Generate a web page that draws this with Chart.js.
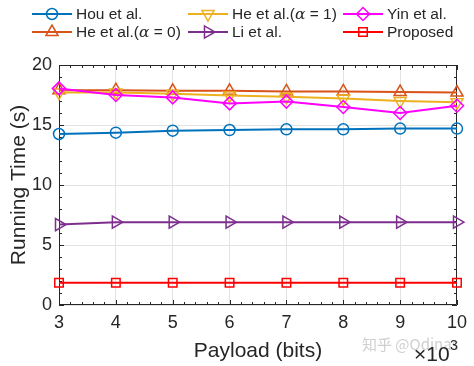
<!DOCTYPE html>
<html>
<head>
<meta charset="utf-8">
<script src="https://cdn.jsdelivr.net/npm/chart.js@4/dist/chart.umd.min.js"></script>
<style>
  html, body { margin: 0; padding: 0; background: #fff; }
  #wrap { width: 474px; height: 366px; }
</style>
</head>
<body>
<div id="wrap"><canvas id="chart" width="474" height="366"></canvas></div>
<script>
// Data
const payload = [3, 4, 5, 6, 7, 8, 9, 10];
const hou = [14.25, 14.36, 14.53, 14.58, 14.64, 14.64, 14.7, 14.7];
const heAlpha0 = [17.9, 17.9, 17.85, 17.85, 17.8, 17.8, 17.75, 17.7];
const heAlpha1 = [17.7, 17.7, 17.6, 17.45, 17.35, 17.2, 17.0, 16.9];
const li = [6.7, 6.9, 6.9, 6.9, 6.9, 6.9, 6.9, 6.9];
const yin = [18.05, 17.5, 17.3, 16.8, 16.95, 16.5, 16.0, 16.6];
const proposed = [1.85, 1.85, 1.85, 1.85, 1.85, 1.86, 1.86, 1.86];
const xTicks = [3, 4, 5, 6, 7, 8, 9, 10];
const yTicks = [0, 5, 10, 15, 20];

const FONT = "'Liberation Sans', Arial, sans-serif";
const AXIS = '#262626';

// series in MATLAB plot order (last one ends up on top)
const series = [
  { label: 'Hou et al.', data: hou, color: '#0072BD', style: 'circle', rot: 0, r: 5.5 },
  { label: 'He et al.(α = 0)', data: heAlpha0, color: '#D95319', style: 'triangle', rot: 0, r: 7 },
  { label: 'He et al.(α = 1)', data: heAlpha1, color: '#EDB120', style: 'triangle', rot: 180, r: 7 },
  { label: 'Li et al.', data: li, color: '#7E2F8E', style: 'triangle', rot: 90, r: 7 },
  { label: 'Yin et al.', data: yin, color: '#FF00FF', style: 'rectRot', rot: 0, r: 6.5 },
  { label: 'Proposed', data: proposed, color: '#FF0000', style: 'rect', rot: 0, r: 6 }
];

// legend grid: [series index, column x, row y]
const legendSlots = [
  [0, 32, 14], [1, 32, 32],
  [2, 188, 14], [3, 188, 32],
  [4, 343, 14], [5, 343, 32]
];

function drawRich(ctx, text, x, y, size) {
  // plain text with the greek alpha in italic serif like MATLAB's TeX
  const parts = text.split('α');
  parts.forEach((p, i) => {
    ctx.font = size + 'px ' + FONT;
    ctx.fillText(p, x, y);
    x += ctx.measureText(p).width;
    if (i < parts.length - 1) {
      ctx.font = 'italic ' + size + 'px "DejaVu Serif", "Liberation Serif", serif';
      ctx.fillText('α', x, y);
      x += ctx.measureText('α').width;
    }
  });
}

const framePlugin = {
  id: 'frame',
  beforeDatasetsDraw(chart) {
    const ctx = chart.ctx;
    const a = chart.chartArea;
    const xs = chart.scales.x, ys = chart.scales.y;
    ctx.save();
    ctx.strokeStyle = AXIS;
    ctx.lineWidth = 1;
    ctx.beginPath();
    ctx.rect(a.left + 0.5, a.top + 0.5, a.right - a.left - 1, a.bottom - a.top - 1);
    ctx.stroke();
    // inward ticks on all sides, majors and minors
    ctx.beginPath();
    for (let v = 3; v <= 10.001; v += 0.2) {
      const major = Math.abs(v - Math.round(v)) < 0.01;
      const len = major ? 5 : 3;
      const px = Math.round(xs.getPixelForValue(v)) + 0.5;
      ctx.moveTo(px, a.bottom); ctx.lineTo(px, a.bottom - len);
      ctx.moveTo(px, a.top); ctx.lineTo(px, a.top + len);
    }
    for (let v = 0; v <= 20; v += 1) {
      const len = v % 5 === 0 ? 5 : 3;
      const py = Math.round(ys.getPixelForValue(v)) + 0.5;
      ctx.moveTo(a.left, py); ctx.lineTo(a.left + len, py);
      ctx.moveTo(a.right, py); ctx.lineTo(a.right - len, py);
    }
    ctx.stroke();
    ctx.restore();
  },
  afterDraw(chart) {
    const ctx = chart.ctx;
    const a = chart.chartArea;
    ctx.save();
    ctx.fillStyle = AXIS;
    ctx.textBaseline = 'alphabetic';

    // axis titles
    ctx.font = '21px ' + FONT;
    ctx.textAlign = 'center';
    ctx.fillText('Payload (bits)', (a.left + a.right) / 2, 357);
    ctx.save();
    ctx.translate(25, (a.top + a.bottom) / 2);
    ctx.rotate(-Math.PI / 2);
    ctx.fillText('Running Time (s)', 0, 0);
    ctx.restore();

    // watermark
    ctx.textAlign = 'left';
    ctx.font = '15px "Noto Sans CJK SC", ' + FONT;
    ctx.fillStyle = 'rgba(175,175,175,0.6)';
    ctx.fillText('知乎 @Qdinas', 362, 350);

    // exponent label
    ctx.fillStyle = AXIS;
    ctx.font = '21px ' + FONT;
    ctx.fillText('×10', 414, 361);
    ctx.font = '14px ' + FONT;
    ctx.fillText('3', 450, 350);

    // legend
    legendSlots.forEach(([i, x, y]) => {
      const s = series[i];
      ctx.strokeStyle = s.color;
      ctx.lineWidth = 2;
      ctx.beginPath();
      ctx.moveTo(x, y); ctx.lineTo(x + 40, y);
      ctx.stroke();
      ctx.fillStyle = 'rgba(0,0,0,0)';
      ctx.lineWidth = 1.5;
      Chart.helpers.drawPoint(ctx, {
        pointStyle: s.style, radius: s.r, rotation: s.rot, borderWidth: 1.5
      }, x + 20, y);
      ctx.fillStyle = AXIS;
      ctx.textAlign = 'left';
      ctx.textBaseline = 'middle';
      drawRich(ctx, s.label, x + 44, y + 1, 15.5);
    });
    ctx.restore();
  }
};

const datasets = series.map((s, i) => ({
  label: s.label,
  data: payload.map((x, k) => ({ x: x, y: s.data[k] })),
  borderColor: s.color,
  borderWidth: 2,
  pointStyle: s.style,
  pointRotation: s.rot,
  pointRadius: s.r,
  pointBorderWidth: 1.5,
  pointBorderColor: s.color,
  pointBackgroundColor: 'rgba(0,0,0,0)',
  tension: 0,
  clip: false,
  order: series.length - i
}));

new Chart(document.getElementById('chart').getContext('2d'), {
  type: 'line',
  data: { datasets: datasets },
  options: {
    responsive: false,
    animation: false,
    devicePixelRatio: 1,
    layout: { padding: { top: 65, right: 16, left: 0, bottom: 0 } },
    plugins: { legend: { display: false }, tooltip: { enabled: false } },
    scales: {
      x: {
        type: 'linear',
        min: 3, max: 10,
        afterBuildTicks: s => { s.ticks = xTicks.map(v => ({ value: v })); },
        afterFit: s => { s.height = 61; },
        grid: { color: '#e3e3e3', lineWidth: 1, drawTicks: false },
        border: { display: false },
        ticks: { color: AXIS, padding: 7, maxRotation: 0, font: { family: FONT, size: 18 } }
      },
      y: {
        type: 'linear',
        min: 0, max: 20,
        afterBuildTicks: s => { s.ticks = yTicks.map(v => ({ value: v })); },
        afterFit: s => { s.width = 59; },
        grid: { color: '#e3e3e3', lineWidth: 1, drawTicks: false },
        border: { display: false },
        ticks: { color: AXIS, padding: 7, font: { family: FONT, size: 18 } }
      }
    }
  },
  plugins: [framePlugin]
});
</script>
</body>
</html>
